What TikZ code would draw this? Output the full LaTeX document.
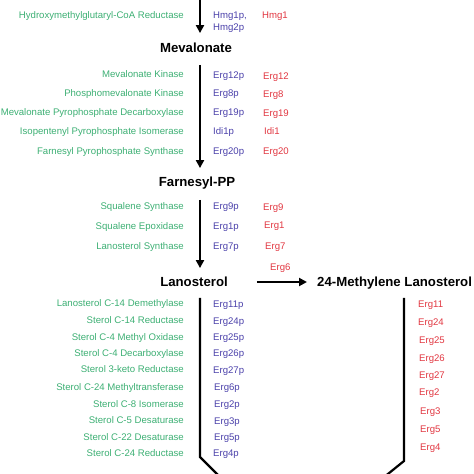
\documentclass[tikz,border=0pt]{standalone}
\usepackage{fontspec}
\setmainfont{Liberation Sans}
\usetikzlibrary{arrows.meta}
\definecolor{enzgreen}{RGB}{60,175,115}
\definecolor{protblue}{RGB}{75,65,170}
\definecolor{genered}{RGB}{225,55,65}
\tikzset{
  compound/.style={font=\fontsize{13.2}{15}\selectfont\bfseries, inner sep=0pt, text height=9.45pt, text depth=0pt},
  label/.style={font=\fontsize{9.6}{11}\selectfont, inner sep=0pt, text height=6.9pt, text depth=0pt},
  enzyme/.style={label, text=enzgreen, anchor=east},
  protein/.style={label, text=protblue, anchor=west},
  gene/.style={label, text=genered, anchor=west},
  pathway/.style={line width=2.2pt, -{Triangle[length=8pt,width=8pt]}},
  branch/.style={line width=2.2pt},
}
\begin{document}
\begin{tikzpicture}[x=1pt,y=-1pt]
\useasboundingbox (0,0) rectangle (474,474);

\node[compound] (mev) at (196,48) {Mevalonate};
\node[compound] (far) at (197,182) {Farnesyl-PP};
\node[compound] (lano) at (194,282) {Lanosterol};
\node[compound, anchor=west] (methyl) at (317,282) {24-Methylene Lanosterol};

\coordinate (origin) at (200,-10);
\coordinate (bendL) at (200,457);
\coordinate (endL) at (227,484);
\coordinate (bendR) at (404,461);
\coordinate (endR) at (378,482);

\node[enzyme] (hmgr) at (184,15) {Hydroxymethylglutaryl-CoA Reductase};
\node[protein] (hmg1p) at (213,15) {Hmg1p,};
\node[protein] (hmg2p) at (213,27) {Hmg2p};
\node[gene] (hmg1) at (262,15) {Hmg1};

\node[enzyme] (mk) at (184,74) {Mevalonate Kinase};
\node[enzyme] (pmk) at (184,93) {Phosphomevalonate Kinase};
\node[enzyme] (mpd) at (184,112) {Mevalonate Pyrophosphate Decarboxylase};
\node[enzyme] (ipi) at (184,131) {Isopentenyl Pyrophosphate Isomerase};
\node[enzyme] (fps) at (184,151) {Farnesyl Pyrophosphate Synthase};
\node[protein] (erg12p) at (213,75) {Erg12p};
\node[protein] (erg8p) at (213,93) {Erg8p};
\node[protein] (erg19p) at (213,112) {Erg19p};
\node[protein] (idi1p) at (213,131) {Idi1p};
\node[protein] (erg20p) at (213,151) {Erg20p};
\node[gene] (erg12) at (263,76) {Erg12};
\node[gene] (erg8) at (263,94) {Erg8};
\node[gene] (erg19) at (263,113) {Erg19};
\node[gene] (idi1) at (264,131) {Idi1};
\node[gene] (erg20) at (263,151) {Erg20};

\node[enzyme] (sqs) at (184,206) {Squalene Synthase};
\node[enzyme] (sqe) at (184,226) {Squalene Epoxidase};
\node[enzyme] (las) at (184,246) {Lanosterol Synthase};
\node[protein] (erg9p) at (213,206) {Erg9p};
\node[protein] (erg1p) at (213,226) {Erg1p};
\node[protein] (erg7p) at (213,246) {Erg7p};
\node[gene] (erg9) at (263,207) {Erg9};
\node[gene] (erg1) at (264,225) {Erg1};
\node[gene] (erg7) at (265,246) {Erg7};
\node[gene] (erg6a) at (270,267) {Erg6};

\node[enzyme] (c14d) at (184,303) {Lanosterol C-14 Demethylase};
\node[enzyme] (c14r) at (184,320) {Sterol C-14 Reductase};
\node[enzyme] (c4mo) at (184,337) {Sterol C-4 Methyl Oxidase};
\node[enzyme] (c4d) at (184,353) {Sterol C-4 Decarboxylase};
\node[enzyme] (k3r) at (184,369) {Sterol 3-keto Reductase};
\node[enzyme] (c24m) at (184,387) {Sterol C-24 Methyltransferase};
\node[enzyme] (c8i) at (184,404) {Sterol C-8 Isomerase};
\node[enzyme] (c5d) at (184,420) {Sterol C-5 Desaturase};
\node[enzyme] (c22d) at (184,437) {Sterol C-22 Desaturase};
\node[enzyme] (c24r) at (184,453) {Sterol C-24 Reductase};
\node[protein] (erg11p) at (213,304) {Erg11p};
\node[protein] (erg24p) at (213,321) {Erg24p};
\node[protein] (erg25p) at (213,337) {Erg25p};
\node[protein] (erg26p) at (213,353) {Erg26p};
\node[protein] (erg27p) at (213,370) {Erg27p};
\node[protein] (erg6p) at (214,387) {Erg6p};
\node[protein] (erg2p) at (214,404) {Erg2p};
\node[protein] (erg3p) at (214,421) {Erg3p};
\node[protein] (erg5p) at (214,437) {Erg5p};
\node[protein] (erg4p) at (213,453) {Erg4p};

\node[gene] (erg11) at (418,304) {Erg11};
\node[gene] (erg24) at (418,322) {Erg24};
\node[gene] (erg25) at (419,340) {Erg25};
\node[gene] (erg26) at (419,358) {Erg26};
\node[gene] (erg27) at (419,375) {Erg27};
\node[gene] (erg2) at (419,392) {Erg2};
\node[gene] (erg3) at (420,411) {Erg3};
\node[gene] (erg5) at (420,429) {Erg5};
\node[gene] (erg4) at (420,447) {Erg4};

\draw[pathway, shorten >=10pt] (origin) -- (mev.north -| origin);
\draw[pathway, shorten <=12pt, shorten >=9pt] (mev.south -| origin) -- (far.north -| origin);
\draw[pathway, shorten <=13pt, shorten >=9pt] (far.south -| origin) -- (lano.north -| origin);
\draw[pathway, shorten <=29pt, shorten >=10pt] (lano) -- (methyl);
\draw[branch, shorten <=11pt] (lano.south -| origin) -- (bendL) -- (endL);
\draw[branch, shorten <=11pt] (methyl.south -| bendR) -- (bendR) -- (endR);
\end{tikzpicture}
\end{document}
